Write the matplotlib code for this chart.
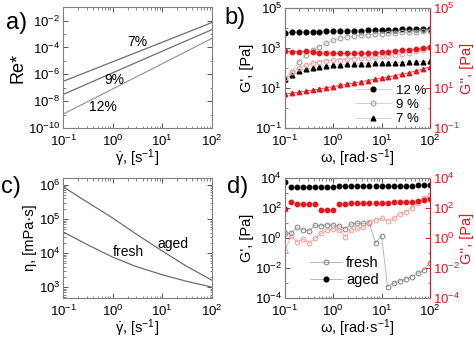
import numpy as np
import matplotlib.pyplot as plt
from matplotlib.ticker import FixedLocator, LogLocator, NullFormatter

plt.rcParams['font.family'] = ['Liberation Sans', 'DejaVu Sans']
plt.rcParams['mathtext.default'] = 'regular'

# ---- data ----
# a) Re* vs shear rate
shear_a = [0.1, 1, 10, 100]
re_7 = [3.0e-7, 8.6e-6, 2.45e-4, 7.1e-3]
re_9 = [3.2e-8, 1.3e-6, 5.3e-5, 2.1e-3]
re_12 = [1.1e-9, 8.2e-8, 6.2e-6, 4.7e-4]

# b) frequency sweeps, 12 / 9 / 7 %
omega_b = [0.1, 0.139, 0.193, 0.268, 0.373, 0.518, 0.72, 1.0, 1.39, 1.93, 2.68,
           3.73, 5.18, 7.2, 10, 13.9, 19.3, 26.8, 37.3, 51.8, 72, 100]
g1_12 = [6000, 6150, 6300, 6450, 6600, 6750, 6900, 7100, 7200, 7250, 7400,
         7600, 7750, 7950, 8100, 8300, 8500, 8700, 8900, 9100, 9300, 9500]
g2_12 = [680, 660, 640, 700, 610, 590, 570, 550, 545, 540, 545,
         555, 570, 590, 620, 660, 710, 770, 840, 920, 1040, 1170]
g1_9 = [25, 63, 200, 447, 794, 1200, 1780, 2510, 3160, 3630, 4070,
        4470, 4790, 5130, 5370, 5620, 5890, 6170, 6460, 6760, 7080, 7410]
g2_9 = [32, 63, 100, 141, 178, 209, 234, 251, 269, 282, 302,
        316, 339, 363, 398, 427, 468, 525, 603, 708, 832, 1000]
g1_7 = [28, 45, 71, 89, 105, 120, 132, 141, 148, 155, 162,
        166, 170, 174, 178, 182, 186, 191, 200, 204, 214, 224]
g2_7 = [5.0, 5.6, 6.3, 7.1, 7.9, 9.1, 10.5, 12.0, 13.8, 15.8, 18.2,
        20.9, 24.0, 27.5, 31.6, 36.3, 42.7, 50.1, 60.3, 72.4, 91.2, 117]

# c) viscosity curves
shear_c = [0.1, 0.3, 1, 3, 10, 30, 100]
eta_aged = [8.9e5, 3.2e5, 1.07e5, 3.6e4, 1.15e4, 4.2e3, 1.6e3]
eta_fresh = [4.2e4, 1.8e4, 7.6e3, 4.0e3, 2.3e3, 1.5e3, 1.0e3]

# d) frequency sweeps, fresh / aged
omega_d = [0.1, 0.133, 0.178, 0.237, 0.316, 0.422, 0.562, 0.75, 1.0, 1.33, 1.78,
           2.37, 3.16, 4.22, 5.62, 7.5, 10, 13.3, 17.8, 23.7, 31.6, 42.2, 56.2, 75, 100]
g1_aged = [5600, 2600, 2600, 2620, 2640, 2650, 2660, 2680, 2700, 2720, 2740, 2760,
           2780, 2800, 2830, 2860, 2890, 2920, 2960, 3000, 3050, 3150, 3250, 3350, 3500]
g2_aged = [80, 263, 186, 190, 186, 190, 79, 76, 79, 186, 195, 200,
           200, 204, 209, 214, 219, 224, 234, 240, 251, 263, 282, 316, 420]
g1_fresh = [2.0, 2.2, 5.0, 3.5, 3.0, 7.1, 6.6, 7.6, 7.2, 6.3, 4.2, 8.5,
            9.3, 9.3, 9.5, 0.45, 1.4, 5.6e-4, 9.5e-4, 1.35e-3, 1.86e-3, 2.6e-3,
            4.4e-3, 7.4e-3, 2.2e-2]
g2_fresh = [0.126, 1.26, 0.575, 0.85, 0.44, 0.95, 2.04, 3.4, 4.0, 3.4, 1.23, 3.4,
            4.4, 5.75, 12.3, 15.8, 20.4, 13.5, 20.4, 38, 57.5, 95.5, 204, 437, 741]

RED = '#e8141c'
PINK = '#f2a3a3'
GRAY = '#a0a0a0'
LINE = '#6e6e6e'


def style_axes(ax, ymajor, yminor, right_ticks=True):
    ax.set_xscale('log')
    ax.set_yscale('log')
    ax.set_xlim(0.1, 100)
    ax.xaxis.set_major_locator(FixedLocator([0.1, 1, 10, 100]))
    ax.xaxis.set_minor_locator(LogLocator(base=10, subs=np.arange(2, 10), numticks=20))
    ax.xaxis.set_minor_formatter(NullFormatter())
    ax.yaxis.set_major_locator(FixedLocator(ymajor))
    ax.yaxis.set_minor_locator(FixedLocator(yminor))
    ax.yaxis.set_minor_formatter(NullFormatter())
    ax.tick_params(which='both', direction='in', top=True, right=right_ticks,
                   labelsize=9.5, color='#555555')
    ax.tick_params(axis='x', pad=4)
    ax.tick_params(axis='y', pad=2)
    ax.tick_params(which='major', length=3.5, width=0.7)
    ax.tick_params(which='minor', length=1.8, width=0.5)
    for s in ax.spines.values():
        s.set_color('#808080')
        s.set_linewidth(0.8)


fig = plt.figure(figsize=(4.74, 3.39), dpi=100)

# ---------- a ----------
ax_a = fig.add_axes([0.133, 0.622, 0.314, 0.357])
ax_a.plot(shear_a, re_7, color=LINE, lw=0.9)
ax_a.plot(shear_a, re_9, color=LINE, lw=0.9)
ax_a.plot(shear_a, re_12, color='#9a9a9a', lw=0.9)
ax_a.set_ylim(1e-10, 1e-1)
style_axes(ax_a, [1e-10, 1e-8, 1e-6, 1e-4, 1e-2],
           [1e-9, 1e-7, 1e-5, 1e-3, 1e-1])
ax_a.text(2.0, 10**-3.63, '7%', fontsize=10, va='center')
ax_a.text(0.67, 10**-6.44, '9%', fontsize=10, va='center')
ax_a.text(0.33, 10**-8.44, '12%', fontsize=10, va='center')
ax_a.set_ylabel('Re*', fontsize=13, labelpad=1)
ax_a.set_xlabel(r'$\dot{\gamma}$, [s$^{-1}$]', fontsize=10.5, labelpad=-1)

# ---------- b ----------
ax_b = fig.add_axes([0.601, 0.622, 0.306, 0.354])
ax_b2 = ax_b.twinx()
for ax in (ax_b, ax_b2):
    ax.set_yscale('log')
    ax.set_ylim(0.1, 1e5)
ax_b2.plot(omega_b, g2_7, '^', color=RED, ms=3.2, ls='-', lw=0.5)
ax_b2.plot(omega_b, g2_9, 'o', mfc='none', mec=PINK, ms=3.4, mew=0.8,
           color=PINK, ls='-', lw=0.5)
ax_b2.plot(omega_b, g2_12, 'o', color=RED, ms=3.2, ls='-', lw=0.5)
ax_b.plot(omega_b, g1_12, 'o', mfc='black', mec='black', ms=3.4,
          color='#c0c0c0', ls='-', lw=0.5, label='12 %')
ax_b.plot(omega_b, g1_9, 'o', mfc='none', mec=GRAY, ms=3.4, mew=0.8,
          color='#c0c0c0', ls='-', lw=0.5, label='9 %')
ax_b.plot(omega_b, g1_7, '^', mfc='black', mec='black', ms=3.4,
          color='#c0c0c0', ls='-', lw=0.5, label='7 %')
style_axes(ax_b, [0.1, 10, 1e3, 1e5], [1, 100, 1e4], right_ticks=False)
style_axes(ax_b2, [0.1, 10, 1e3, 1e5], [1, 100, 1e4])
ax_b2.set_ylim(0.1, 1e5)
ax_b2.tick_params(which='both', axis='y', colors=RED, labelcolor=RED)
ax_b2.spines['right'].set_color(RED)
ax_b2.set_ylabel("G'', [Pa]", color=RED, fontsize=10.5, labelpad=0)
ax_b.set_ylabel("G', [Pa]", fontsize=10.5, labelpad=1)
ax_b.set_xlabel('ω, [rad·s$^{-1}$]', fontsize=10.5, labelpad=-1)
ax_b.legend(loc='lower right', frameon=False, fontsize=9.5, handlelength=2.6,
            handletextpad=0.4, labelspacing=0.15, borderaxespad=0.1,
            bbox_to_anchor=(1.02, -0.03))

# ---------- c ----------
ax_c = fig.add_axes([0.133, 0.121, 0.314, 0.354])
ax_c.plot(shear_c, eta_aged, color=LINE, lw=0.9)
ax_c.plot(shear_c, eta_fresh, color=LINE, lw=0.9)
ax_c.set_ylim(480, 1.6e6)
style_axes(ax_c, [1e3, 1e4, 1e5, 1e6], [])
ax_c.yaxis.set_minor_locator(LogLocator(base=10, subs=np.arange(2, 10), numticks=20))
ax_c.text(7.8, 1.8e4, 'aged', fontsize=10, va='center')
ax_c.text(1.0, 1.07e4, 'fresh', fontsize=10, va='center')
ax_c.set_ylabel('η, [mPa·s]', fontsize=10.5, labelpad=1)
ax_c.set_xlabel(r'$\dot{\gamma}$, [s$^{-1}$]', fontsize=10.5, labelpad=-1)

# ---------- d ----------
ax_d = fig.add_axes([0.601, 0.121, 0.306, 0.354])
ax_d2 = ax_d.twinx()
for ax in (ax_d, ax_d2):
    ax.set_yscale('log')
    ax.set_ylim(1e-4, 1e4)
ax_d2.plot(omega_d, g2_fresh, 'o', mfc='none', mec=PINK, ms=3.4, mew=0.8,
           color=PINK, ls='-', lw=0.6)
ax_d2.plot(omega_d, g2_aged, 'o', color=RED, ms=3.2, ls='none')
ax_d.plot(omega_d, g1_fresh, 'o', mfc='none', mec='#8c8c8c', ms=3.4, mew=0.8,
          color='#b8b8b8', ls='-', lw=0.7, label='fresh')
ax_d.plot(omega_d, g1_aged, 'o', mfc='black', mec='black', ms=3.2,
          color='#b8b8b8', ls='none', label='aged')
style_axes(ax_d, [1e-4, 1e-2, 1, 100, 1e4], [1e-3, 0.1, 10, 1e3], right_ticks=False)
style_axes(ax_d2, [1e-4, 1e-2, 1, 100, 1e4], [1e-3, 0.1, 10, 1e3])
ax_d2.set_ylim(1e-4, 1e4)
ax_d2.tick_params(which='both', axis='y', colors=RED, labelcolor=RED)
ax_d2.spines['right'].set_color(RED)
ax_d2.set_ylabel("G'', [Pa]", color=RED, fontsize=10.5, labelpad=0)
ax_d.set_ylabel("G', [Pa]", fontsize=10.5, labelpad=1)
ax_d.set_xlabel('ω, [rad·s$^{-1}$]', fontsize=10.5, labelpad=-1)
h_f, = ax_d.plot([], [], 'o', mfc='none', mec='#8c8c8c', ms=3.4, mew=0.8,
                 color='#b8b8b8', ls='-', lw=0.7)
h_a, = ax_d.plot([], [], 'o', mfc='black', mec='black', ms=3.4,
                 color='#b8b8b8', ls='-', lw=0.7)
ax_d.legend([h_f, h_a], ['fresh', 'aged'], loc='lower left', frameon=False,
            fontsize=10.5, handlelength=2.2, handletextpad=0.3, labelspacing=0.2,
            bbox_to_anchor=(0.08, -0.02))

# panel letters
fig.text(0.012, 0.915, 'a)', fontsize=17)
fig.text(0.474, 0.93, 'b)', fontsize=17)
fig.text(0.003, 0.43, 'c)', fontsize=17)
fig.text(0.478, 0.43, 'd)', fontsize=17)

fig.savefig('out.png', dpi=100)
